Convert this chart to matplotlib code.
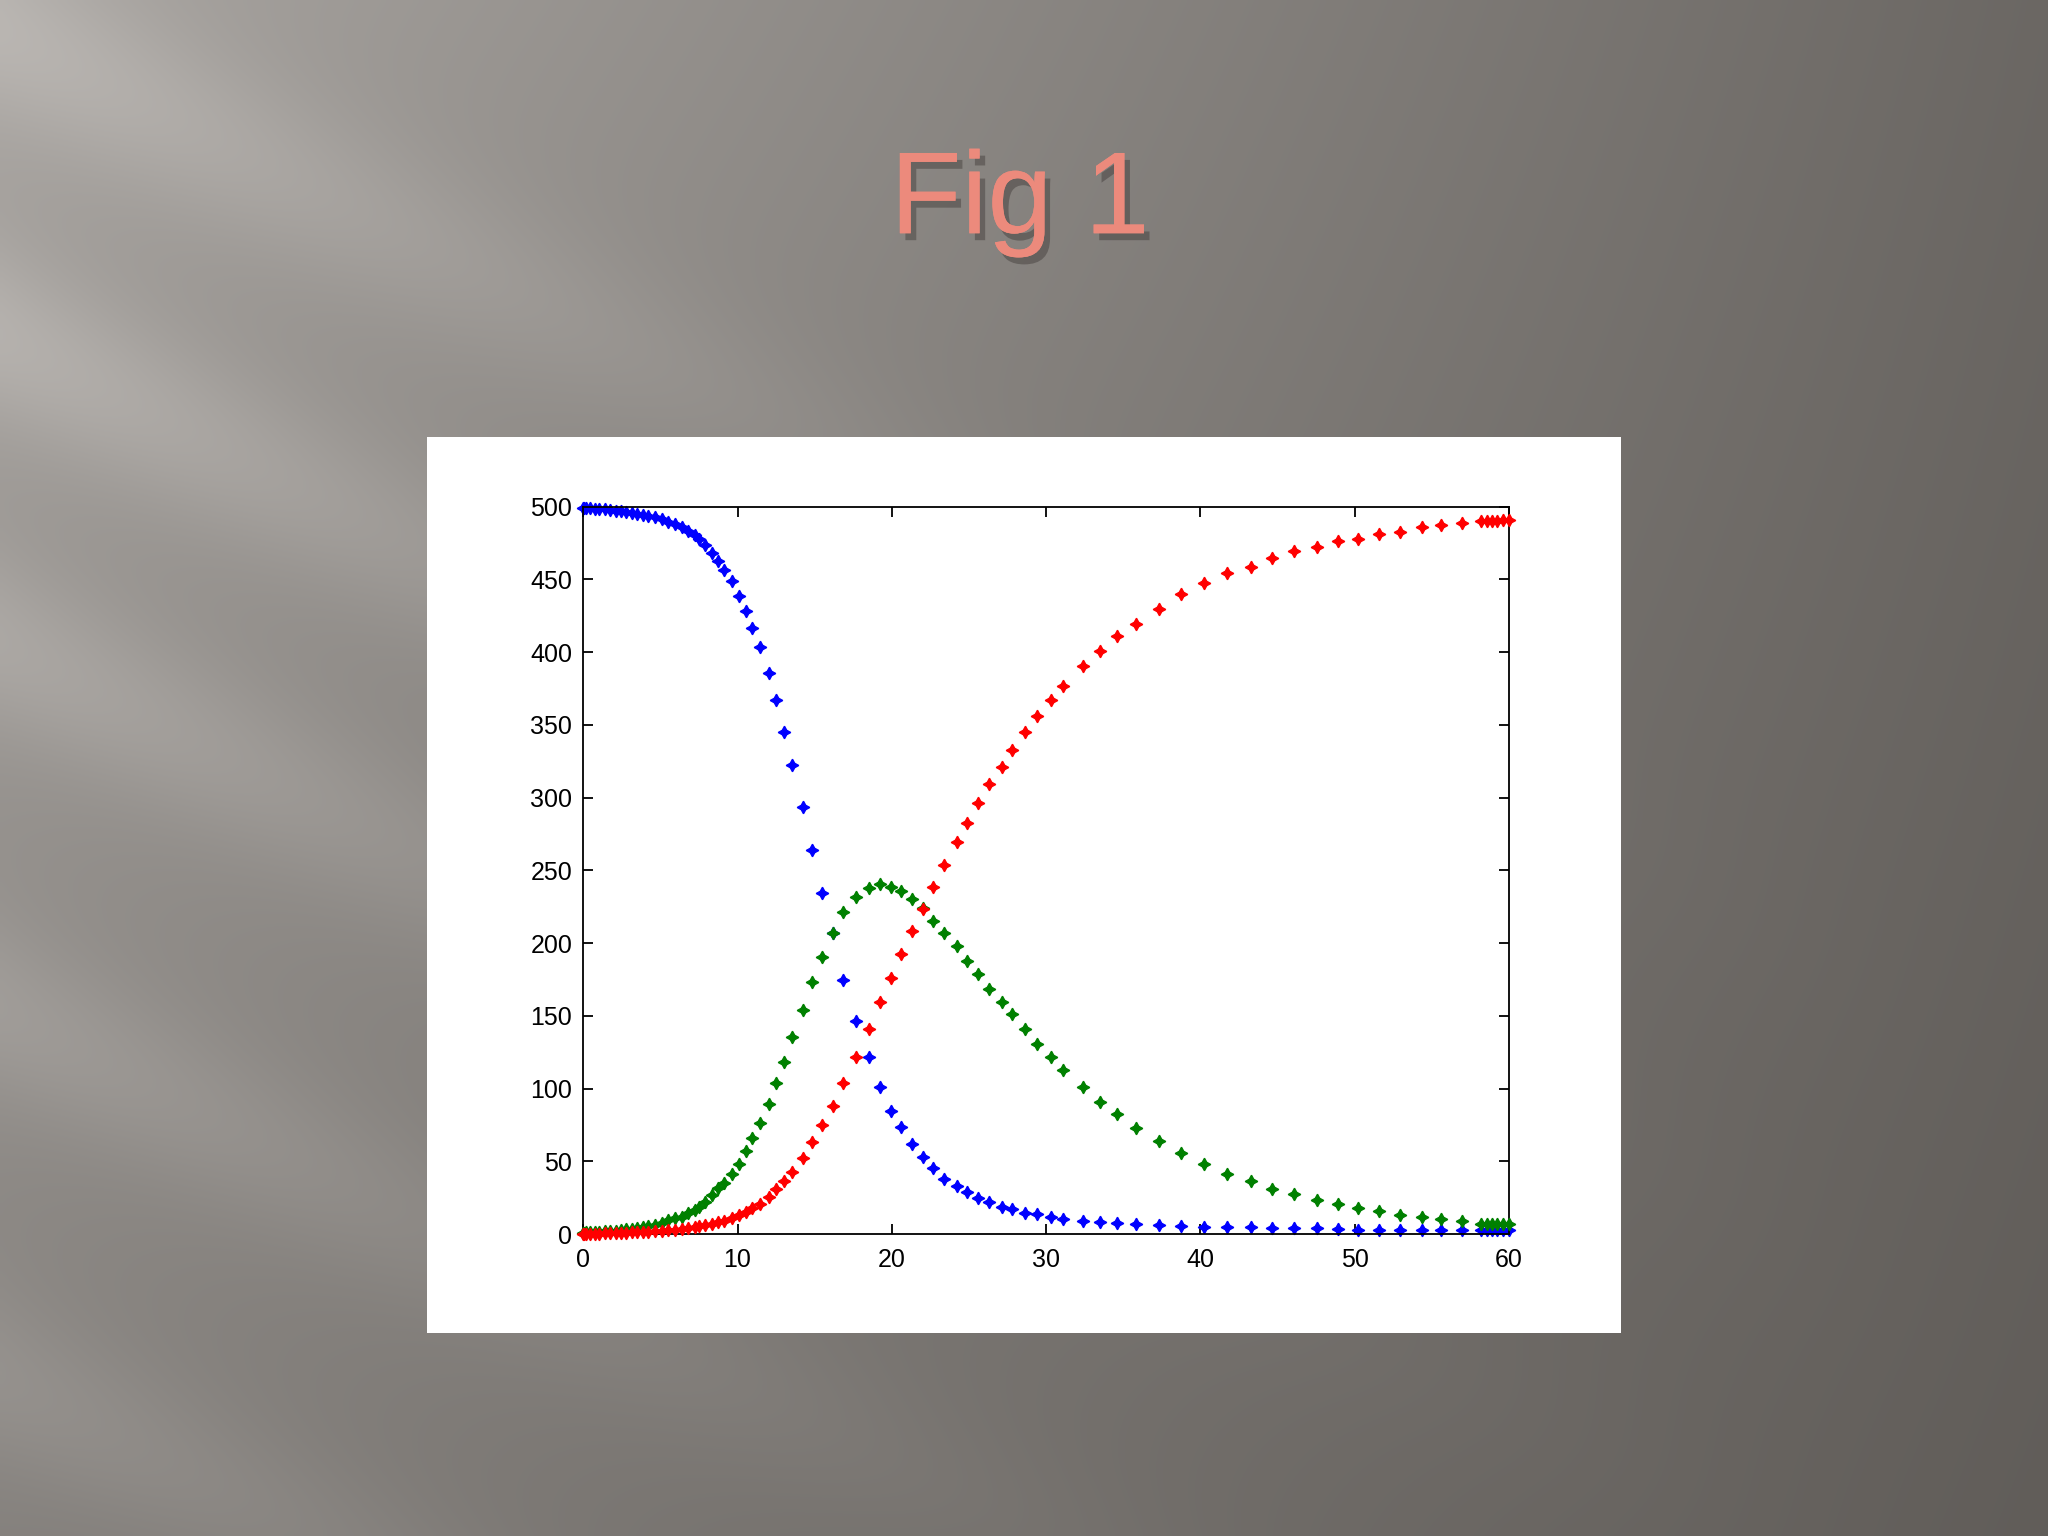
import numpy as np
import matplotlib
matplotlib.use("Agg")
import matplotlib.pyplot as plt
import matplotlib.patheffects as pe

# ode output (time, susceptible, infected, recovered)
t = [0, 0.05, 0.2, 0.45, 0.75, 1.05, 1.4, 1.75, 2.1, 2.45, 2.8, 3.15, 3.5, 3.85,
     4.21, 4.65, 5.08, 5.51, 5.94, 6.38, 6.8, 7.24, 7.52, 7.89, 8.32, 8.75, 9.14,
     9.66, 10.09, 10.52, 10.91, 11.45, 12.03, 12.47,
     13.01, 13.55, 14.22, 14.8, 15.49, 16.16, 16.85, 17.67, 18.54, 19.23, 19.92,
     20.59, 21.28, 22.0, 22.68, 23.38, 24.2,
     24.89, 25.6, 26.29, 27.11, 27.8, 28.63, 29.42, 30.29, 31.11,
     32.37, 33.49, 34.57, 35.82, 37.31, 38.72, 40.23, 41.74, 43.25, 44.66, 46.06,
     47.53, 48.9, 50.19, 51.57, 52.93, 54.34, 55.59, 56.97,
     58.2, 58.55, 58.9, 59.25, 59.6, 60.0]

S = [499, 499, 498.9, 498.8, 498.6, 498.4, 498.1, 497.8, 497.4, 497.0, 496.5, 495.9, 495.3, 494.5,
     493.7, 492.8, 491.5, 489.8, 488.0, 486.0, 483.5, 480.5, 477.8, 473.9, 468.1, 462.4, 456.2,
     448.6, 438.3, 428.0, 416.6, 403.3, 386.0, 366.8,
     344.8, 322.6, 293.4, 264.1, 234.7, 206.8, 174.7, 146.7, 122.0, 101.3, 84.8,
     73.4, 61.7, 52.7, 45.2, 38.1, 33.2,
     29.1, 25.0, 21.8, 18.8, 17.2, 14.7, 13.5, 11.9, 10.3,
     8.9, 8.6, 7.3, 7.0, 5.9, 5.6, 5.0, 4.6, 4.5, 4.4, 4.3,
     4.2, 3.2, 3.1, 3.0, 3.0, 2.9, 2.9, 2.8,
     2.8, 2.8, 2.8, 2.8, 2.8, 2.8]

I = [1.0, 1.0, 1.1, 1.2, 1.4, 1.6, 1.8, 2.1, 2.4, 2.8, 3.2, 3.7, 4.2, 4.8,
     5.5, 6.2, 7.8, 9.6, 10.8, 11.9, 14.2, 16.5, 18.8, 22.2, 26.8, 31.4, 35.3,
     41.0, 48.1, 57.3, 65.8, 76.1, 89.4, 103.6,
     118.5, 135.3, 154.0, 173.0, 190.7, 206.8, 221.2, 232.0, 237.7, 240.7, 238.9,
     236.1, 230.4, 224.4, 215.5, 206.8, 198.0,
     187.8, 178.8, 168.5, 159.8, 151.1, 140.8, 130.5, 122.0, 112.8,
     101.3, 90.6, 82.3, 73.1, 64.2, 55.5, 48.1, 41.0, 36.7, 30.7, 27.5,
     23.6, 20.4, 17.7, 15.8, 13.1, 11.5, 10.1, 8.9,
     7.2, 7.1, 7.0, 7.0, 6.9, 6.9]

R = [0, 0, 0.05, 0.1, 0.2, 0.3, 0.4, 0.5, 0.6, 0.8, 0.9, 1.1, 1.3, 1.5,
     1.7, 2.0, 2.3, 2.7, 3.0, 3.5, 4.1, 4.8, 5.3, 6.0, 7.0, 8.0, 9.2,
     10.8, 13.1, 15.4, 18.1, 20.6, 25.2, 30.7,
     36.7, 42.4, 52.5, 63.0, 75.0, 88.0, 103.6, 122.0, 140.8, 159.8, 175.8,
     192.3, 208.4, 223.3, 238.9, 253.8, 269.8,
     282.9, 296.2, 309.5, 321.4, 332.9, 344.8, 356.3, 366.8, 376.9,
     390.2, 400.5, 410.8, 419.5, 429.8, 439.9, 447.5, 454.4, 458.9, 464.7, 469.3,
     472.3, 476.6, 478.0, 481.4, 482.6, 485.8, 487.2, 488.8,
     490.0, 490.2, 490.4, 490.5, 490.6, 490.8]

xticks = [0, 10, 20, 30, 40, 50, 60]
yticks = [0, 50, 100, 150, 200, 250, 300, 350, 400, 450, 500]


def background(fig):
    # grey slide backdrop with soft diagonal light streaks
    h, w = 384, 512
    yy, xx = np.mgrid[0:1:h * 1j, 0:1:w * 1j]
    base = 0.64 - 0.24 * xx - 0.14 * yy + 0.10 * xx * yy
    u = yy - 0.67 * xx
    for u0, a in [(0.02, 0.07), (0.22, 0.08), (0.42, 0.07), (0.66, 0.06), (0.9, 0.05)]:
        base = base + a * (1 - xx) ** 2 * np.exp(-((u - u0) / 0.06) ** 2)
    img = np.dstack([base + 0.02, base + 0.005, base - 0.01]).clip(0, 1)
    bg = fig.add_axes([0, 0, 1, 1], zorder=-10)
    bg.imshow(img, aspect="auto", extent=[0, 1, 0, 1], interpolation="bilinear")
    bg.axis("off")


def main():
    fig = plt.figure(figsize=(20.48, 15.36), dpi=100)
    background(fig)

    fig.text(0.498, 0.868, "Fig 1", fontsize=84, color="#ec8a7c",
             family=["Liberation Sans", "DejaVu Sans"], ha="center", va="center", zorder=5,
             path_effects=[pe.withSimplePatchShadow(offset=(4, -5), shadow_rgbFace="#2a2422", alpha=0.35),
                           pe.Normal()])

    # white picture box
    box = fig.add_axes([0.2085, 0.1322, 0.583, 0.5833], zorder=-5)
    box.set_facecolor("white")
    box.set_xticks([])
    box.set_yticks([])
    for sp in box.spines.values():
        sp.set_visible(False)

    ax = fig.add_axes([0.2848, 0.1966, 0.452, 0.4735], zorder=1)
    ax.set_facecolor("white")
    kw = dict(linestyle="none", marker=(4, 1, 0), markersize=9, clip_on=False)
    ax.plot(t, S, color="#0000ff", zorder=2, **kw)
    ax.plot(t, I, color="#008000", zorder=3, **kw)
    ax.plot(t, R, color="#ff0000", zorder=4, **kw)

    ax.set_xlim(0, 60)
    ax.set_ylim(0, 500)
    ax.set_xticks(xticks)
    ax.set_yticks(yticks)
    for sp in ax.spines.values():
        sp.set_linewidth(1.3)
    ax.tick_params(direction="in", length=7, width=1.3, top=True, right=True,
                   labelsize=18, pad=8)
    ax.tick_params(axis="x", pad=10)
    for lab in ax.get_xticklabels() + ax.get_yticklabels():
        lab.set_family(["Liberation Sans", "DejaVu Sans"])

    fig.savefig("out.png", dpi=100)


if __name__ == '__main__':
    main()
